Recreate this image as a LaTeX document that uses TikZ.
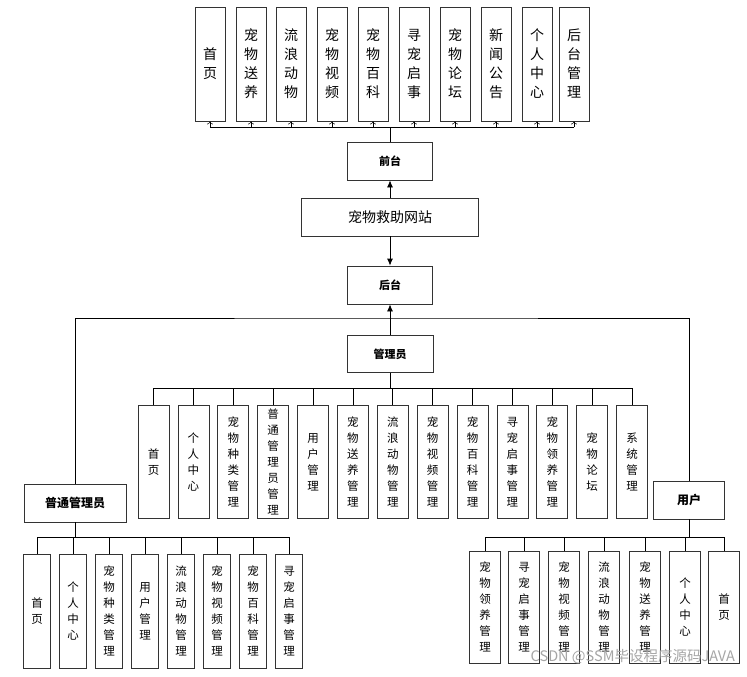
\documentclass[tikz,border=0pt]{standalone}
\usepackage{fontspec}
\setmainfont{Noto Sans CJK SC}
\usetikzlibrary{arrows.meta}
\begin{document}
\begin{tikzpicture}[x=1pt,y=-1pt,
  box/.style={draw=black!80,fill=white,inner sep=0pt,align=center,line width=0.8pt},
  tb/.style={box,minimum width=30pt,minimum height=114pt,font=\fontsize{14}{19}\selectfont},
  lb/.style={box,minimum width=31pt,minimum height=113pt,font=\fontsize{11.5}{16}\selectfont},
  ln/.style={line width=0.8pt}]
\fill[white] (0,0) rectangle (747,677);
\useasboundingbox (0,0) rectangle (747,677);
% top row
\foreach \i/\x/\t in {1/210/首\\页,2/251/宠\\物\\送\\养,3/291/流\\浪\\动\\物,4/332/宠\\物\\视\\频,5/373/宠\\物\\百\\科,6/414/寻\\宠\\启\\事,7/455/宠\\物\\论\\坛,8/496/新\\闻\\公\\告,9/537/个\\人\\中\\心,10/574/后\\台\\管\\理}
  \node[tb] (t\i) at (\x,64) {\t};
\node[box,minimum width=85pt,minimum height=38pt,font=\fontsize{11}{13}\selectfont\bfseries] (qt) at (390,161) {前台};
\node[box,minimum width=177pt,minimum height=38pt,font=\fontsize{14}{16}\selectfont] (site) at (390,217) {宠物救助网站};
\node[box,minimum width=85pt,minimum height=38pt,font=\fontsize{11}{13}\selectfont\bfseries] (ht) at (390,285) {后台};
\draw[ln,-{Latex[length=7pt,width=6pt]}] (site) -- (qt);
\draw[ln,-{Latex[length=7pt,width=6pt]}] (site) -- (ht);
\coordinate (tb) at (390,127);
\draw[ln] (qt.north) -- (tb);
\draw[ln] (t1.south |- tb) -- (t10.south |- tb);
\foreach \i in {1,...,10} \draw[line width=0.5pt,-{To[length=3pt,width=6pt]}] (t\i.south |- tb) -- (t\i.south);
% roles
\node[box,minimum width=86pt,minimum height=37pt,font=\fontsize{11}{13}\selectfont\bfseries] (gly) at (390,354) {管理员};
\node[box,minimum width=102pt,minimum height=38pt,font=\fontsize{12}{14}\selectfont\bfseries] (pt) at (75,503) {普通管理员};
\node[box,minimum width=71pt,minimum height=38pt,font=\fontsize{12}{14}\selectfont\bfseries] (yh) at (689,500) {用户};
\coordinate (hb) at (390,318);
\draw[ln,-{Latex[length=7pt,width=6pt]}] (hb) -- (ht.south);
\draw[ln] (pt.north) |- (hb) -| (yh.north);
\draw[ln] (hb) -- (gly.north);
% admin children
\foreach \i/\t [count=\k from 0] in {1/首\\页,2/个\\人\\中\\心,3/宠\\物\\种\\类\\管\\理,4/普\\通\\管\\理\\员\\管\\理,5/用\\户\\管\\理,6/宠\\物\\送\\养\\管\\理,7/流\\浪\\动\\物\\管\\理,8/宠\\物\\视\\频\\管\\理,9/宠\\物\\百\\科\\管\\理,10/寻\\宠\\启\\事\\管\\理,11/宠\\物\\领\\养\\管\\理,12/宠\\物\\论\\坛,13/系\\统\\管\\理}
  \node[lb] (a\i) at ({153.6+39.87*\k},462) {\t};
\coordinate (ab) at (390,388);
\draw[ln] (gly.south) -- (ab);
\draw[ln] (a1.north |- ab) -- (a13.north |- ab);
\foreach \i in {1,...,13} \draw[ln] (a\i.north |- ab) -- (a\i.north);
% ordinary admin children
\foreach \i/\x/\t in {1/37/首\\页,2/73/个\\人\\中\\心,3/109/宠\\物\\种\\类\\管\\理,4/145/用\\户\\管\\理,5/181/流\\浪\\动\\物\\管\\理,6/217/宠\\物\\视\\频\\管\\理,7/253/宠\\物\\百\\科\\管\\理,8/289/寻\\宠\\启\\事\\管\\理}
  \node[lb,minimum width=27pt,minimum height=114pt] (p\i) at (\x,611) {\t};
\coordinate (pb) at (75,537);
\draw[ln] (pt.south) -- (pb);
\draw[ln] (p1.north |- pb) -- (p8.north |- pb);
\foreach \i in {1,...,8} \draw[ln] (p\i.north |- pb) -- (p\i.north);
% user children
\foreach \i/\x/\t in {1/485/宠\\物\\领\\养\\管\\理,2/524/寻\\宠\\启\\事\\管\\理,3/564/宠\\物\\视\\频\\管\\理,4/604/流\\浪\\动\\物\\管\\理,5/645/宠\\物\\送\\养\\管\\理,6/685/个\\人\\中\\心,7/724/首\\页}
  \node[lb,minimum height=112pt] (u\i) at (\x,607) {\t};
\coordinate (ub) at (689,537);
\draw[ln] (yh.south) -- (ub);
\draw[ln] (u1.north |- ub) -- (u7.north |- ub);
\foreach \i in {1,...,7} \draw[ln] (u\i.north |- ub) -- (u\i.north);
\node[text=black!35,font=\fontsize{14.5}{16}\selectfont,anchor=east,inner sep=0pt] (wm) at (735,657) {CSDN @SSM毕设程序源码JAVA};
\end{tikzpicture}
\end{document}
